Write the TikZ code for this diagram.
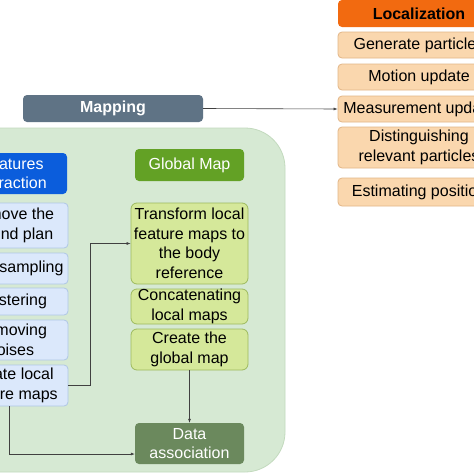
\documentclass[tikz,border=0pt]{standalone}
\usepackage{fontspec}
\setmainfont{Liberation Sans}
\usetikzlibrary{arrows.meta,calc}
\definecolor{locor}{HTML}{F26A10}
\definecolor{locfill}{HTML}{FAD7AE}
\definecolor{locdraw}{HTML}{E2B687}
\definecolor{mapgray}{HTML}{5F7385}
\definecolor{regfill}{HTML}{D6E9D3}
\definecolor{regdraw}{HTML}{C3DABE}
\definecolor{featblue}{HTML}{0B5DDC}
\definecolor{bluefill}{HTML}{DBE8FB}
\definecolor{bluedraw}{HTML}{AFC6E6}
\definecolor{gmgreen}{HTML}{63A125}
\definecolor{ygfill}{HTML}{D5E89A}
\definecolor{ygdraw}{HTML}{9DBA5E}
\definecolor{dagreen}{HTML}{6B895D}
\definecolor{arr}{HTML}{404040}
\tikzset{
  base/.style={rounded corners=4pt, inner sep=0pt, align=center, font=\fontsize{16}{19.5}\selectfont},
  lochead/.style={base, fill=locor, text=black, font=\fontsize{16}{19.5}\selectfont\bfseries},
  locbox/.style={base, fill=locfill, draw=locdraw, line width=0.8pt, text=black},
  maphead/.style={base, fill=mapgray, text=white, font=\fontsize{16}{19.5}\selectfont\bfseries},
  darkhead/.style={base, text=white},
  bluebox/.style={base, fill=bluefill, draw=bluedraw, line width=0.8pt, text=black},
  ygbox/.style={base, fill=ygfill, draw=ygdraw, line width=0.8pt, text=black, rounded corners=6pt},
  conn/.style={draw=arr, line width=0.6pt, -{Latex[length=4pt,width=3pt]}}
}
\begin{document}
\begin{tikzpicture}[x=1pt,y=-1pt]
\useasboundingbox (0,0) rectangle (474,474);
\clip (0,0) rectangle (474,474);
\fill[white] (0,0) rectangle (474,474);
% region
\draw[fill=regfill, draw=regdraw, line width=0.8pt, rounded corners=40pt] (-60,128) rectangle (285,472);
% localization
\node[lochead, minimum width=162pt, minimum height=27pt] (loc) at (419,13.5) {Localization};
\node[locbox, minimum width=162pt, minimum height=26pt] (gen) at (419,45) {Generate particles};
\node[locbox, minimum width=162pt, minimum height=26pt] (mot) at (419,77) {Motion update};
\node[locbox, minimum width=162pt, minimum height=26pt] (meas) at (419,109) {Measurement update};
\node[locbox, minimum width=162pt, minimum height=41pt] (dist) at (419,147.5) {Distinguishing\\relevant particles};
\node[locbox, minimum width=162pt, minimum height=28pt] (est) at (419,192) {Estimating position};
% mapping
\node[maphead, minimum width=180pt, minimum height=27pt] (mapping) at (113,108.5) {Mapping};
% features
\node[darkhead, fill=featblue, minimum width=110pt, minimum height=41pt] (feat) at (12,173.5) {Features\\extraction};
\node[bluebox, minimum width=114pt, minimum height=45pt] (r1) at (11,225.5) {Remove the\\ground plan};
\node[bluebox, minimum width=114pt, minimum height=31pt] (r2) at (11,268.5) {Downsampling};
\node[bluebox, minimum width=114pt, minimum height=27pt] (r3) at (11,301.5) {Clustering};
\node[bluebox, minimum width=114pt, minimum height=40pt] (r4) at (11,340) {Removing\\noises};
\node[bluebox, minimum width=114pt, minimum height=41pt] (r5) at (11,385.5) {Create local\\feature maps};
% global map
\node[darkhead, fill=gmgreen, minimum width=109pt, minimum height=32pt] (gm) at (189.5,165) {Global Map};
\node[ygbox, minimum width=117pt, minimum height=81pt] (t1) at (189.5,243.5) {Transform local\\feature maps to\\the body\\reference};
\node[ygbox, minimum width=117pt, minimum height=35pt] (t2) at (189.5,306.5) {Concatenating\\local maps};
\node[ygbox, minimum width=117pt, minimum height=41pt] (t3) at (189.5,349.5) {Create the\\global map};
\node[darkhead, fill=dagreen, minimum width=109pt, minimum height=41pt] (data) at (189.5,443.5) {Data\\association};
% connectors
\draw[conn] (mapping.east) -- (meas.west);
\draw[conn] (r5.east) -- ++(22,0) |- (t1.west);
\draw[conn] (t3.south) -- (data.north);
\draw[conn] ([xshift=-2pt]r5.south) |- ([yshift=-10.5pt]data.west);
\end{tikzpicture}
\end{document}
